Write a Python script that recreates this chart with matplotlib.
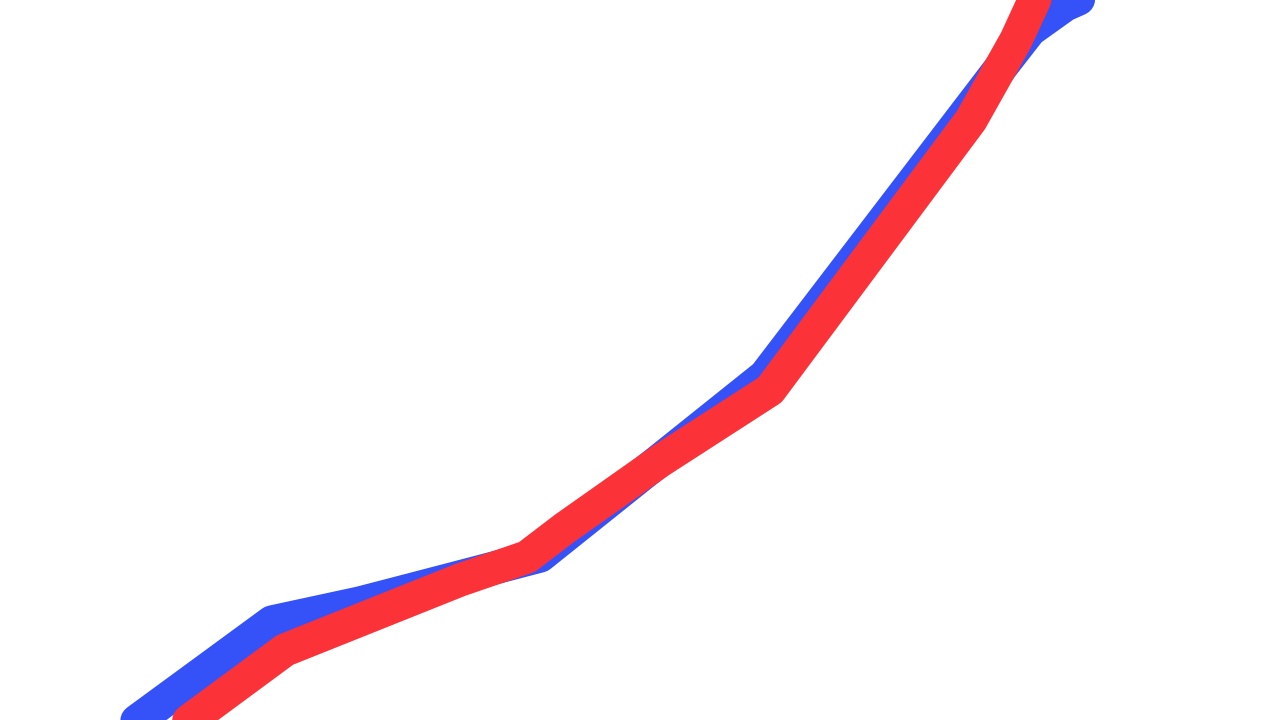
import matplotlib.pyplot as plt

# two series (x across, y down from the top edge)
blue_x = [111, 272, 360, 410, 540, 765, 995, 1030, 1065, 1110]
blue_y = [740, 622, 603, 590, 556, 376, 75, 30, 5, -15]

red_x = [163, 285, 360, 460, 527, 565, 660, 770, 971, 1016, 1040]
red_y = [740, 650, 620, 580, 557, 528, 461, 390, 120, 40, -12]

fig = plt.figure(figsize=(12.8, 7.2), dpi=100)
ax = fig.add_axes([0, 0, 1, 1])

ax.plot(blue_x, blue_y, color='#3452f8', lw=24, solid_capstyle='round',
        solid_joinstyle='round')
ax.plot(red_x, red_y, color='#fc3239', lw=24, solid_capstyle='round',
        solid_joinstyle='round')

ax.set_xlim(0, 1280)
ax.set_ylim(720, 0)
ax.axis('off')

fig.savefig('out.png', dpi=100, facecolor='white')
